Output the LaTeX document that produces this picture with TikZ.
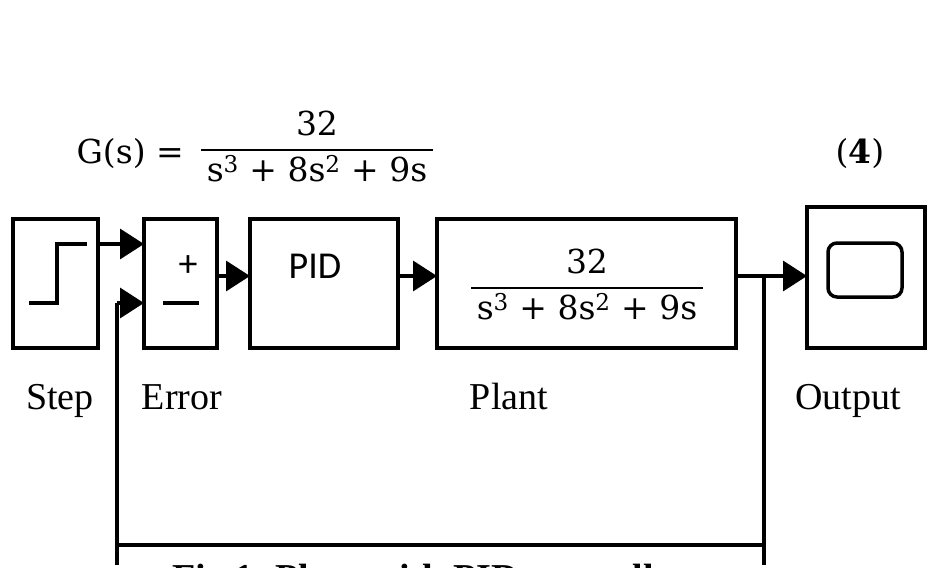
\documentclass[tikz,border=0pt]{standalone}
\usepackage{fontspec}
\setmainfont{Liberation Serif}
\newfontfamily\calib{Carlito}
\newfontfamily\cam{DejaVu Serif}
\usetikzlibrary{arrows.meta}
\newcommand{\myfrac}{\setlength{\arrayrulewidth}{2pt}\renewcommand{\arraystretch}{1.1}\begin{tabular}{@{\,}c@{\,}}32\\\hline s\textsuperscript{3} + 8s\textsuperscript{2} + 9s\end{tabular}}
\begin{document}
\begin{tikzpicture}[x=1pt,y=-1pt,
  blk/.style={draw,line width=3.5pt},
  wire/.style={line width=3.5pt},
  arr/.style={wire,-{Triangle[length=24pt,width=30pt]}},
  lab/.style={font=\fontsize{38}{40}\selectfont,anchor=base},
  mth/.style={font=\cam\fontsize{33}{40}\selectfont,inner sep=0pt}]
\path[use as bounding box] (0,0) rectangle (946,568);
\begin{scope}
\clip (0,0) rectangle (946,568);
% equation
\node[mth,anchor=base east] (geq) at (184,163) {G(s) =};
\node[mth] (gfrac) at (317,150) {\myfrac};
\node[mth,anchor=base] (eqn) at (860,163) {(\textbf{4})};
% blocks
\draw[blk] (13,219) rectangle (98,348);
\node[minimum width=85pt,minimum height=129pt] (step) at (55.5,283.5) {};
\draw[wire] (29,303) -- (57,303) -- (57,244) -- (87,244);
\draw[blk] (144,219) rectangle (217,348);
\node[minimum width=73pt,minimum height=129pt] (err) at (180.5,283.5) {};
\node[font=\calib\fontsize{38}{40}\selectfont] (plus) at (188,266) {+};
\draw[wire] (163,303) -- (199,303);
\draw[blk] (250,219) rectangle (398,348);
\node[font=\calib\fontsize{38}{40}\selectfont] (pid) at (315,266) {PID};
\draw[blk] (437,219) rectangle (736,348);
\node[mth] (plant) at (587,288) {\myfrac};
\draw[blk] (807,207) rectangle (925,348);
\draw[wire,rounded corners=9pt] (828,243) rectangle (902,297);
% labels
\node[lab] (lstep) at (60,409) {Step};
\node[lab] (lerr) at (182,409) {Error};
\node[lab] (lplant) at (509,409) {Plant};
\node[lab] (lout) at (848,409) {Output};
% connectors
\coordinate (s1) at (98,244);
\coordinate (e1) at (144,244);
\coordinate (e2) at (144,303);
\coordinate (e3) at (217,276);
\coordinate (p1) at (250,276);
\coordinate (p2) at (398,276);
\coordinate (q1) at (437,276);
\coordinate (q2) at (736,276);
\coordinate (o1) at (807,276);
\coordinate (br) at (764,276);
\coordinate (c1) at (764,545);
\coordinate (c2) at (117,545);
\coordinate (c3) at (117,303);
\draw[arr] (s1) -- (e1);
\draw[arr] (e3) -- (p1);
\draw[arr] (p2) -- (q1);
\draw[arr] (q2) -- (o1);
\draw[wire] (br) -- (764,565);
\draw[wire] (117,565) -- (c3);
\draw[wire] (c2) -- (c1);
\draw[arr] (c3) -- (e2);
\node[font=\bfseries\fontsize{38}{40}\selectfont,anchor=base] (cap) at (430,590) {Fig.1. Plant with PID controller};
\end{scope}
\end{tikzpicture}
\end{document}
